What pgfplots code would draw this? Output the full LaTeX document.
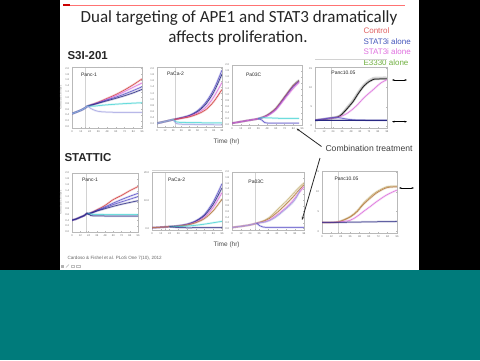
\documentclass[border=0pt]{standalone}
\usepackage{pgfplots}
\pgfplotsset{compat=1.18}
\usepackage{fontspec}
\setmainfont{Liberation Sans}
\newfontfamily\carlito{Carlito}
\usetikzlibrary{arrows.meta}
\definecolor{tealbg}{RGB}{0,123,123}
\definecolor{cred}{RGB}{210,60,60}
\definecolor{cpink}{RGB}{220,110,220}
\definecolor{cblue}{RGB}{90,80,200}
\definecolor{cnavy}{RGB}{40,40,130}
\definecolor{ccyan}{RGB}{60,210,210}
\definecolor{clav}{RGB}{160,160,225}
\definecolor{ctan}{RGB}{200,180,120}
\definecolor{cbrown}{RGB}{180,120,60}
\definecolor{cgray}{RGB}{120,120,120}
\definecolor{lgred}{RGB}{224,96,96}
\definecolor{lgblue}{RGB}{68,85,187}
\definecolor{lgpink}{RGB}{224,112,224}
\definecolor{lggreen}{RGB}{112,176,64}
\tikzset{cv/.style={draw=#1, line width=0.5pt, preaction={draw=#1, draw opacity=0.25, line width=2pt}}}
\pgfplotsset{mini/.style={scale only axis, xmin=0, xmax=96, xtick={0,12,...,96},
  axis line style={draw=gray!55, line width=0.35pt},
  major tick length=1pt, tick style={gray!55, line width=0.3pt},
  ticklabel style={font=\fontsize{2.6}{3}\selectfont, text=gray!80!black},
  /pgf/number format/assume math mode=true,
  xticklabel style={yshift=0.6pt}, yticklabel style={xshift=0.6pt},
  clip=true, axis background/.style={fill=white},
  every axis plot/.append style={no marks, smooth},
  extra x tick style={grid=major, major grid style={gray!35, line width=0.3pt}, tick label style={opacity=0}},
  }}
\begin{document}
\begin{tikzpicture}[x=1pt,y=1pt]
\useasboundingbox (0,0) rectangle (480,360);
\fill[black] (0,0) rectangle (480,360);
\fill[white] (60,90) rectangle (419,360);
\fill[tealbg] (0,0) rectangle (480,90.5);
\draw[red!55!white, line width=0.6pt] (63,355) -- (405,355);
\draw[red!80!black, line width=1.4pt] (63,355) -- (70,355);
\node[font=\carlito\fontsize{17}{19}\selectfont, text=black!85] at (239,341.5) {Dual targeting of APE1 and STAT3 dramatically};
\node[font=\carlito\fontsize{17}{19}\selectfont, text=black!85] at (238,322) {affects proliferation.};
\node[anchor=west, font=\fontsize{8}{9}\selectfont, text=lgred] at (360,329.5) {Control};
\node[anchor=west, font=\fontsize{8}{9}\selectfont, text=lgblue] at (360,318.5) {STAT3i alone};
\node[anchor=west, font=\fontsize{8}{9}\selectfont, text=lgpink] at (360,308) {STAT3i alone};
\node[anchor=west, font=\fontsize{8}{9}\selectfont, text=lggreen] at (360,297.5) {E3330 alone};
\node[anchor=west, font=\bfseries\fontsize{11.5}{12}\selectfont, text=black!85] at (64,304.5) {S3I-201};
\node[anchor=west, font=\bfseries\fontsize{11.5}{12}\selectfont, text=black!85] at (61,202) {STATTIC};
\node[anchor=west, font=\fontsize{6.5}{7}\selectfont, text=black!70] at (210,218) {Time (hr)};
\node[anchor=west, font=\fontsize{6.5}{7}\selectfont, text=black!70] at (210,115) {Time (hr)};
\node[anchor=west, font=\fontsize{8.6}{9}\selectfont, text=black!75] at (322,212) {Combination treatment};
\node[anchor=west, font=\fontsize{4.6}{5}\selectfont, text=black!60] at (64,102) {Cardoso \& Fishel et al. PLoS One 7(10), 2012};
\draw[gray!35, line width=0.3pt] (315,301) -- (387,301);
\draw[gray!35, line width=0.3pt] (152,189.5) -- (222,189.5);

% ---------- top row ----------
\begin{axis}[mini, at={(72pt,232pt)}, anchor=south west, width=70pt, height=61pt,
  ymin=-0.05, ymax=2.05, ytick={0,0.2,...,2.0}, yticklabel style={/pgf/number format/fixed,/pgf/number format/fixed zerofill,/pgf/number format/precision=1},
  extra x ticks={18}, ylabel={Normalized Cell Index}, ylabel style={font=\fontsize{2.4}{3}\selectfont, text=gray, yshift=-3pt}]
\addplot[cv=cred] coordinates {(0,0.44)(6,0.50)(12,0.56)(18,0.64)(21,0.70)(30,0.78)(40,0.88)(50,0.99)(60,1.10)(72,1.26)(84,1.44)(96,1.64)};
\addplot[cv=cpink] coordinates {(0,0.44)(6,0.50)(12,0.56)(18,0.64)(21,0.70)(30,0.77)(40,0.86)(50,0.96)(60,1.06)(72,1.20)(84,1.35)(96,1.50)};
\addplot[cv=cblue] coordinates {(0,0.44)(6,0.50)(12,0.56)(18,0.64)(21,0.70)(30,0.77)(40,0.85)(50,0.93)(60,1.01)(72,1.12)(84,1.24)(96,1.37)};
\addplot[cv=cnavy] coordinates {(0,0.44)(6,0.50)(12,0.56)(18,0.64)(21,0.70)(30,0.76)(40,0.83)(50,0.90)(60,0.97)(72,1.06)(84,1.16)(96,1.28)};
\addplot[cv=ccyan] coordinates {(0,0.44)(6,0.50)(12,0.56)(18,0.64)(21,0.70)(30,0.70)(40,0.73)(60,0.77)(80,0.80)(96,0.82)};
\addplot[cv=clav] coordinates {(0,0.44)(6,0.50)(12,0.56)(18,0.64)(21,0.70)(26,0.62)(32,0.55)(40,0.51)(60,0.49)(96,0.49)};
\node[anchor=west, font=\fontsize{5}{5}\selectfont, text=black!85] at (rel axis cs:0.08,0.88) {Panc-1};
\end{axis}

\begin{axis}[mini, at={(157pt,233pt)}, anchor=south west, width=65pt, height=60pt,
  ymin=0.1, ymax=2.05, ytick={0.2,0.4,...,2.0}, yticklabel style={/pgf/number format/fixed,/pgf/number format/fixed zerofill,/pgf/number format/precision=1},
  extra x ticks={27}]
\addplot[cv=cblue] coordinates {(0,0.22)(6,0.25)(12,0.28)(18,0.31)(24,0.34)(30,0.37)(36,0.40)(48,0.48)(60,0.63)(72,0.90)(84,1.33)(96,1.95)};
\addplot[cv=cnavy] coordinates {(0,0.22)(6,0.25)(12,0.28)(18,0.31)(24,0.34)(30,0.37)(36,0.40)(48,0.47)(60,0.60)(72,0.84)(84,1.24)(96,1.82)};
\addplot[cv=cpink] coordinates {(0,0.22)(6,0.25)(12,0.28)(18,0.31)(24,0.34)(30,0.36)(36,0.39)(48,0.45)(60,0.56)(72,0.74)(84,1.08)(96,1.55)};
\addplot[cv=cred] coordinates {(0,0.22)(6,0.25)(12,0.28)(18,0.31)(24,0.34)(30,0.36)(36,0.38)(48,0.43)(60,0.52)(72,0.66)(84,0.93)(96,1.32)};
\addplot[cv=ccyan] coordinates {(0,0.22)(6,0.25)(12,0.28)(18,0.31)(24,0.34)(28,0.27)(36,0.25)(60,0.24)(96,0.23)};
\addplot[cv=clav] coordinates {(0,0.22)(6,0.25)(12,0.28)(18,0.31)(24,0.33)(28,0.22)(36,0.19)(60,0.18)(96,0.17)};
\node[anchor=west, font=\fontsize{5}{5}\selectfont, text=black!85] at (rel axis cs:0.1,0.88) {PaCa-2};
\end{axis}

\begin{axis}[mini, at={(232pt,235pt)}, anchor=south west, width=70pt, height=60pt,
  ymin=0, ymax=2.0, ytick={0,0.2,...,2.0}, yticklabel style={/pgf/number format/fixed,/pgf/number format/fixed zerofill,/pgf/number format/precision=1}]
\addplot[cv=cgray] coordinates {(0,0.06)(12,0.11)(24,0.16)(36,0.21)(48,0.33)(60,0.56)(72,0.94)(84,1.33)(92,1.50)};
\addplot[cv=cred] coordinates {(0,0.06)(12,0.11)(24,0.16)(36,0.21)(48,0.32)(60,0.54)(72,0.92)(84,1.30)(92,1.46)};
\addplot[cv=cblue] coordinates {(0,0.06)(12,0.11)(24,0.16)(36,0.21)(48,0.31)(60,0.52)(72,0.90)(84,1.28)(92,1.45)};
\addplot[cv=cpink] coordinates {(0,0.06)(12,0.11)(24,0.16)(36,0.21)(48,0.30)(60,0.50)(72,0.86)(84,1.22)(92,1.42)};
\addplot[cv=ccyan] coordinates {(36,0.21)(40,0.24)(48,0.24)(70,0.22)(92,0.22)};
\addplot[cv=cblue] coordinates {(36,0.21)(40,0.18)(45,0.08)(50,0.06)(70,0.06)(92,0.06)};
\node[anchor=west, font=\fontsize{5}{5}\selectfont, text=black!85] at (rel axis cs:0.15,0.84) {Pa03C};
\end{axis}

\begin{axis}[mini, at={(315pt,232pt)}, anchor=south west, width=72pt, height=61pt,
  ymin=-0.5, ymax=15.3, ytick={0,5,10,15}, extra x ticks={21}]
\addplot[draw=gray!60, line width=2.6pt, draw opacity=0.5] coordinates {(0,1.5)(20,2.0)(33,2.6)(45,5.3)(51,6.7)(58,8.8)(65,10.6)(72,11.8)(78,12.4)(88,12.5)(96,12.5)};
\addplot[cv=black] coordinates {(0,1.5)(10,1.7)(20,2.0)(33,2.6)(45,5.0)(51,6.4)(58,8.5)(65,10.3)(72,11.5)(78,12.1)(88,12.2)(96,12.2)};
\addplot[cv=cpink] coordinates {(0,1.5)(20,2.0)(33,2.4)(42,3.2)(51,4.5)(58,5.8)(65,7.3)(72,8.5)(78,9.5)(88,11.2)(96,12.0)};
\addplot[cv=cblue] coordinates {(0,1.5)(20,2.1)(30,2.2)(40,1.9)(51,1.6)(70,1.5)(96,1.5)};
\addplot[cv=cnavy] coordinates {(0,1.5)(30,1.5)(60,1.5)(96,1.5)};
\node[anchor=west, font=\fontsize{5}{5}\selectfont, text=black!85] at (rel axis cs:0.18,0.9) {Panc10.05};
\end{axis}

% ---------- bottom row ----------
\begin{axis}[mini, at={(72pt,128pt)}, anchor=south west, width=66pt, height=59pt,
  ymin=0, ymax=2.0, ytick={0,0.2,...,2.0}, yticklabel style={/pgf/number format/fixed,/pgf/number format/fixed zerofill,/pgf/number format/precision=1},
  extra x ticks={20}, ylabel={Normalized Cell Index}, ylabel style={font=\fontsize{2.4}{3}\selectfont, text=gray, yshift=-3pt}]
\addplot[cv=cred] coordinates {(0,0.40)(6,0.44)(12,0.50)(18,0.56)(21.6,0.63)(24,0.62)(30,0.68)(36,0.75)(48,0.90)(60,1.10)(72,1.24)(84,1.40)(96,1.54)};
\addplot[cv=cblue] coordinates {(0,0.40)(6,0.44)(12,0.50)(18,0.56)(21.6,0.63)(24,0.62)(30,0.67)(36,0.73)(48,0.85)(60,0.98)(72,1.10)(84,1.21)(96,1.31)};
\addplot[cv=cblue] coordinates {(0,0.40)(6,0.44)(12,0.50)(18,0.56)(21.6,0.63)(24,0.62)(30,0.66)(36,0.72)(48,0.82)(60,0.93)(72,1.02)(84,1.11)(96,1.20)};
\addplot[cv=cnavy] coordinates {(0,0.40)(6,0.44)(12,0.50)(18,0.56)(21.6,0.63)(24,0.62)(30,0.66)(36,0.71)(48,0.79)(60,0.87)(72,0.94)(84,1.00)(96,1.06)};
\addplot[cv=ccyan] coordinates {(21.6,0.63)(26,0.62)(30,0.60)(60,0.59)(96,0.59)};
\addplot[cv=cnavy] coordinates {(21.6,0.63)(26,0.58)(30,0.55)(60,0.54)(96,0.54)};
\node[anchor=west, font=\fontsize{5}{5}\selectfont, text=black!85] at (rel axis cs:0.1,0.88) {Panc-1};
\end{axis}

\begin{axis}[mini, at={(152pt,130pt)}, anchor=south west, width=70pt, height=58pt,
  ymin=-0.6, ymax=20.2, ytick={0,10,20}, yticklabel style={/pgf/number format/fixed,/pgf/number format/fixed zerofill,/pgf/number format/precision=1},
  extra x ticks={18}]
\addplot[cv=cblue] coordinates {(0,0.2)(12,0.4)(24,0.6)(36,0.9)(48,1.5)(60,2.7)(72,5.0)(84,9.5)(96,16.0)};
\addplot[cv=cnavy] coordinates {(0,0.2)(12,0.4)(24,0.6)(36,0.9)(48,1.4)(60,2.5)(72,4.6)(84,8.6)(96,14.5)};
\addplot[cv=cpink] coordinates {(0,0.2)(12,0.4)(24,0.6)(36,0.85)(48,1.3)(60,2.2)(72,4.0)(84,7.5)(96,12.8)};
\addplot[cv=cbrown] coordinates {(0,0.2)(12,0.4)(24,0.6)(36,0.8)(48,1.2)(60,2.0)(72,3.5)(84,6.3)(96,10.5)};
\addplot[cv=ccyan] coordinates {(24,0.6)(36,0.7)(48,0.8)(60,1.1)(72,1.5)(84,2.0)(96,2.5)};
\addplot[cv=cnavy] coordinates {(24,0.6)(36,0.3)(48,0.2)(72,0.25)(96,0.3)};
\node[anchor=west, font=\fontsize{5}{5}\selectfont, text=black!85] at (rel axis cs:0.18,0.86) {PaCa-2};
\end{axis}

\begin{axis}[mini, at={(232pt,130pt)}, anchor=south west, width=72pt, height=58pt,
  ymin=-0.05, ymax=2.0, ytick={0,0.2,...,2.0}, yticklabel style={/pgf/number format/fixed,/pgf/number format/fixed zerofill,/pgf/number format/precision=1},
  extra x ticks={31}]
\addplot[cv=ctan] coordinates {(0,0.04)(12,0.08)(24,0.13)(33,0.19)(44,0.30)(50,0.40)(57,0.58)(64,0.76)(72,0.96)(80,1.19)(88,1.42)(96,1.62)};
\addplot[cv=cbrown] coordinates {(0,0.04)(12,0.08)(24,0.13)(33,0.19)(44,0.28)(50,0.36)(57,0.50)(64,0.66)(72,0.86)(80,1.08)(88,1.32)(96,1.55)};
\addplot[cv=cpink] coordinates {(0,0.04)(12,0.08)(24,0.13)(33,0.19)(44,0.24)(50,0.30)(57,0.42)(64,0.56)(72,0.74)(80,0.95)(88,1.22)(96,1.48)};
\addplot[cv=clav] coordinates {(0,0.04)(12,0.08)(24,0.13)(33,0.19)(44,0.23)(50,0.28)(57,0.38)(64,0.52)(72,0.70)(80,0.89)(86,1.10)(91,1.38)};
\addplot[cv=cblue] coordinates {(33,0.19)(37,0.10)(42,0.05)(60,0.04)(96,0.04)};
\node[anchor=west, font=\fontsize{5}{5}\selectfont, text=black!85] at (rel axis cs:0.18,0.84) {Pa03C};
\end{axis}

\begin{axis}[mini, at={(322pt,127pt)}, anchor=south west, width=75pt, height=62pt,
  ymin=-0.4, ymax=15.2, ytick={0,5,10,15}, extra x ticks={21}]
\addplot[cv=ctan] coordinates {(0,2.25)(20,2.4)(36,3.75)(45,5.2)(53,7.1)(62,8.8)(70,10.0)(83,11.25)(96,11.4)};
\addplot[cv=cbrown] coordinates {(0,2.25)(20,2.35)(36,3.6)(45,5.0)(53,6.8)(62,8.4)(70,9.7)(83,11.0)(96,11.2)};
\addplot[cv=cpink] coordinates {(0,2.25)(20,2.35)(36,2.8)(45,3.8)(53,5.0)(62,6.3)(70,7.5)(83,9.2)(96,10.4)};
\addplot[cv=cnavy] coordinates {(0,2.25)(30,2.3)(60,2.4)(96,2.5)};
\node[anchor=west, font=\fontsize{5}{5}\selectfont, text=black!85] at (rel axis cs:0.12,0.88) {Panc10.05};
\end{axis}

% arrows
\draw[-{Stealth[length=3pt]}, line width=0.8pt, black!85] (321.5,213.5) -- (296.5,231.5);
\draw[-{Stealth[length=3pt]}, line width=0.8pt, black!85] (320,202) -- (302,140);
\draw[{Stealth[length=2.5pt]}-{Stealth[length=2.5pt]}, line width=0.8pt] (392,280) -- (407,280);
\draw[{Stealth[length=2.5pt]}-{Stealth[length=2.5pt]}, line width=0.8pt] (392,238.3) -- (407,238.3);
\draw[{Stealth[length=2.5pt]}-{Stealth[length=2.5pt]}, line width=0.8pt] (399,172) -- (414,172);
% toolbar icons
\fill[gray!60] (61,92.5) rectangle (64,95);
\draw[gray!60, line width=0.5pt] (66,92.5) -- (69,95.5);
\draw[gray!50, line width=0.3pt] (71,92.5) rectangle (74,95);
\draw[gray!50, line width=0.3pt] (76,92.5) rectangle (80,95);
\end{tikzpicture}
\end{document}
